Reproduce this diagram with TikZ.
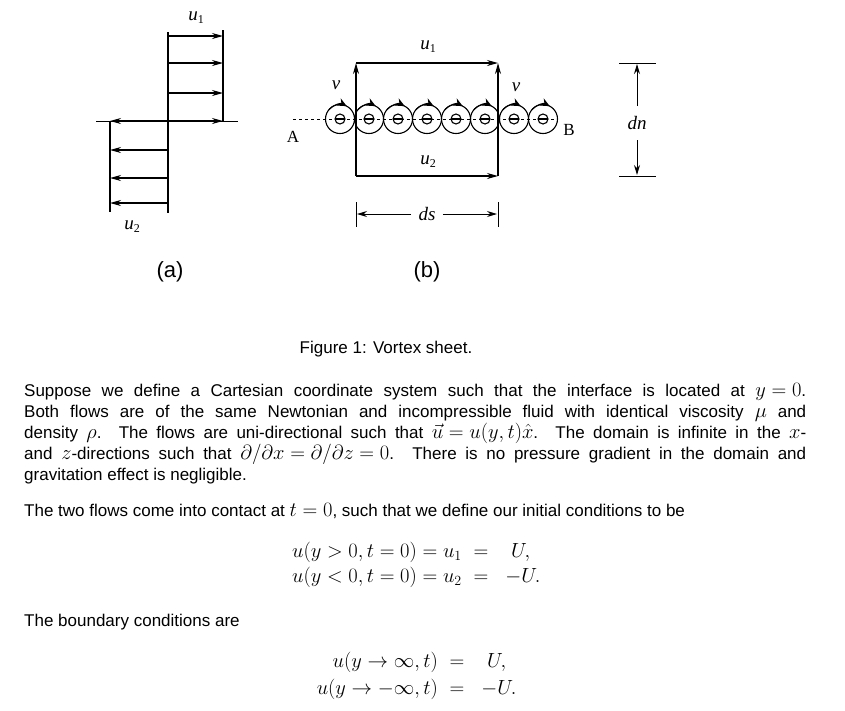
\RequirePackage{fix-cm}
\documentclass[tikz,border=0pt]{standalone}
\usepackage{amsmath}
\usepackage{fontspec}
\setmainfont{Liberation Sans}
\newfontfamily\serifb{Liberation Serif}
\DeclareMathSizes{17}{20.5}{14}{11}
\usetikzlibrary{arrows.meta}
\newcommand{\jline}[1]{\makebox[782pt][s]{#1}}
\newcommand{\mm}[1]{\mbox{$#1$}}
\newcommand{\vl}[2]{\textit{#1}\raisebox{-0.35ex}{\fontsize{12}{12}\selectfont #2}}
\begin{document}
\begin{tikzpicture}[x=1pt,y=-1pt,
  ln/.style={line width=1.3pt},
  arr/.style={line width=1.3pt,-{Stealth[length=11pt,width=6pt]}},
  lbl/.style={font=\serifb\fontsize{19}{19}\selectfont},
  txt/.style={anchor=base west,inner sep=0pt,font=\fontsize{17}{20}\selectfont},
  vort/.style={line width=1.1pt}]
\useasboundingbox (0,0) rectangle (845,710);
% (a)
\coordinate (c0) at (168,32); \coordinate (c1) at (168,213);
\draw[ln] (c0) -- (c1);
\draw[ln] (223,30) -- (223,121);
\draw[ln] (110,121) -- (110,212);
\draw[line width=1pt] (96,121) -- (238,121);
\foreach \y in {36,63,93,121} \draw[arr] (168,\y) -- (223,\y);
\foreach \y in {121,150,178,203} \draw[arr] (168,\y) -- (110,\y);
\node[lbl] (ua1) at (196,18) {\vl{u}{1}};
\node[lbl] (ua2) at (132,227) {\vl{u}{2}};
\node[font=\fontsize{22}{22}\selectfont] (la) at (170,272) {(a)};
% (b)
\draw[dashed,line width=0.8pt] (293,119) -- (557,119);
\foreach \k in {0,...,7}{
  \pgfmathsetmacro{\cx}{340+29*\k}
  \draw[vort] (\cx,119) circle (14.5);
  \draw[vort,fill=white] (\cx,119) circle (5);
  \draw[vort] (\cx-5,119) -- (\cx+5,119);
  \draw[vort,-{Stealth[length=9pt,width=8pt]}] (\cx,119) ++(-140:14.5) arc[start angle=-140,end angle=-62,radius=14.5];
}
\coordinate (p1) at (356,176); \coordinate (p2) at (356,63);
\coordinate (p3) at (498,63); \coordinate (p4) at (498,176);
\draw[arr] (p1) -- (p2);
\draw[arr] (p2) -- (p3);
\draw[arr] (p4) -- (p3);
\draw[arr] (p1) -- (p4);
\node[lbl] (ub1) at (428,47) {\vl{u}{1}};
\node[lbl] (ub2) at (428,162) {\vl{u}{2}};
\node[lbl] (v1) at (336,85) {\textit{v}};
\node[lbl] (v2) at (516,87) {\textit{v}};
\node[font=\serifb\fontsize{17}{17}\selectfont] (A) at (293,137) {A};
\node[font=\serifb\fontsize{17}{17}\selectfont] (B) at (569,130) {B};
\draw[line width=1pt] (356,202) -- (356,227);
\draw[line width=1pt] (498,202) -- (498,227);
\node[lbl] (ds) at (427,214) {\textit{ds}};
\draw[line width=1pt,-{Stealth[length=10pt,width=6pt]}] (ds.west) ++(-4,0) -- (357,214);
\draw[line width=1pt,-{Stealth[length=10pt,width=6pt]}] (ds.east) ++(4,0) -- (497,214);
\draw[line width=1pt] (619,63) -- (656,63);
\draw[line width=1pt] (619,176) -- (656,176);
\node[lbl] (dn) at (637,123) {\textit{dn}};
\draw[line width=1pt,-{Stealth[length=10pt,width=6pt]}] (637,106) -- (637,64);
\draw[line width=1pt,-{Stealth[length=10pt,width=6pt]}] (637,140) -- (637,175);
\node[font=\fontsize{22}{22}\selectfont] (lb) at (427,272) {(b)};
% text
\node[txt,anchor=base] (cap) at (386,353) {Figure 1: Vortex sheet.};
\node[txt] (t1) at (24,396) {\jline{Suppose we define a Cartesian coordinate system such that the interface is located at \mm{y=0}.}};
\node[txt] (t2) at (24,417) {\jline{Both flows are of the same Newtonian and incompressible fluid with identical viscosity \mm{\mu} and}};
\node[txt] (t3) at (24,438) {\jline{density \mm{\rho}.  The flows are uni-directional such that \mm{\vec{u}=u(y,t)\hat{x}}.  The domain is infinite in the \mm{x}-}};
\node[txt] (t4) at (24,459) {\jline{and \mm{z}-directions such that \mm{\partial/\partial x=\partial/\partial z=0}.  There is no pressure gradient in the domain and}};
\node[txt] (t5) at (24,480) {gravitation effect is negligible.};
\node[txt] (t6) at (24,516) {The two flows come into contact at $t=0$, such that we define our initial conditions to be};
\node[txt,anchor=base east] (e1l) at (462,557) {$u(y>0,t=0)=u_1$};
\node[txt] (e1r) at (462,557) {$\;\;=\;\;\;U,$};
\node[txt,anchor=base east] (e2l) at (462,582) {$u(y<0,t=0)=u_2$};
\node[txt] (e2r) at (462,582) {$\;\;=\;\;-U.$};
\node[txt] (t7) at (24,626) {The boundary conditions are};
\node[txt,anchor=base east] (e3l) at (438,667) {$u(y\to\infty,t)$};
\node[txt] (e3r) at (438,667) {$\;\;=\;\;\;U,$};
\node[txt,anchor=base east] (e4l) at (438,694) {$u(y\to-\infty,t)$};
\node[txt] (e4r) at (438,694) {$\;\;=\;\;-U.$};
\end{tikzpicture}
\end{document}
